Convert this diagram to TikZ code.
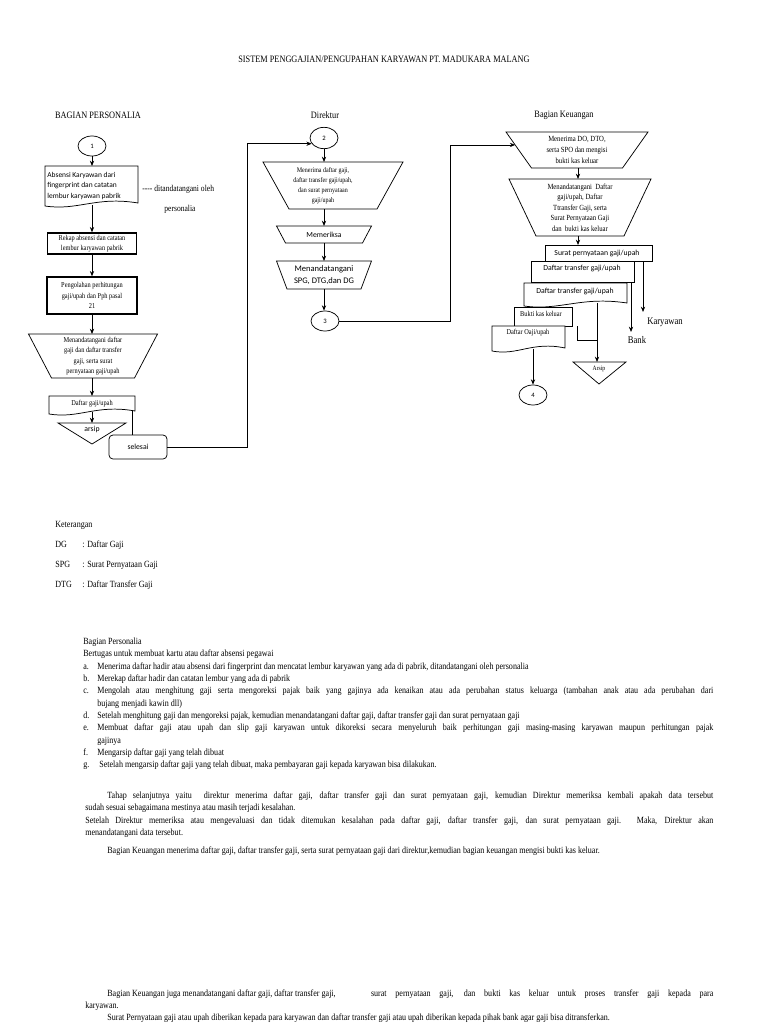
\documentclass[tikz,border=0pt]{standalone}
\usepackage{fontspec}
\setmainfont{Liberation Serif}[FakeStretch=0.85]
\newfontfamily\calf{Carlito}
\usetikzlibrary{calc,shapes.geometric,arrows.meta}
% trapezoid (wide top): opts, name, cx, cy, topw, botw, h, text
\newcommand\trapz[8][]{%
  \coordinate (#2-tl) at ({#3-#5/2},{#4-#7/2});
  \coordinate (#2-tr) at ({#3+#5/2},{#4-#7/2});
  \coordinate (#2-br) at ({#3+#6/2},{#4+#7/2});
  \coordinate (#2-bl) at ({#3-#6/2},{#4+#7/2});
  \coordinate (#2-n) at (#3,{#4-#7/2});
  \coordinate (#2-s) at (#3,{#4+#7/2});
  \draw[fill=white] (#2-tl)--(#2-tr)--(#2-br)--(#2-bl)--cycle;
  \node[fc,#1] (#2) at (#3,#4) {#8};}
% document shape: name, x1, y1, x2, y2 (bottom at left corner)
\newcommand\docu[5]{%
  \coordinate (#1-n) at ({(#2+#4)/2},#3);
  \draw[fill=white] (#2,#3) -- (#4,#3) -- (#4,{#5-3})
    .. controls ({#2+0.55*(#4-#2)},{#5-10}) and ({#2+0.35*(#4-#2)},{#5+5}) .. (#2,#5) -- cycle;}
\newcommand\btext[4]{\node[body] (#1) at (#2,#3) {#4};}
\begin{document}
\begin{tikzpicture}[x=0.75pt,y=-0.75pt,line width=0.55pt,
  >={Stealth[length=4pt,width=3.2pt]},
  circ/.style={draw,ellipse,minimum width=21pt,minimum height=15pt,inner sep=0,font=\calf\fontsize{5}{6}\selectfont},
  fc/.style={inner sep=0,align=center,font=\fontsize{5.6}{7.9}\selectfont},
  fs/.style={inner sep=0,align=center,font=\calf\fontsize{5.8}{7.9}\selectfont},
  body/.style={inner sep=0,anchor=base west,font=\fontsize{7.1}{9}\selectfont},
  hdr/.style={inner sep=0,font=\fontsize{7.3}{9}\selectfont},
  thickbox/.style={draw,line width=1pt,inner sep=0,align=center,font=\fontsize{5.6}{7.9}\selectfont}]
\useasboundingbox (0,0) rectangle (768,1024);
\fill[white] (0,0) rectangle (768,1024);

% title and headers
\node[hdr] (title) at (384,59) {SISTEM PENGGAJIAN/PENGUPAHAN KARYAWAN PT. MADUKARA MALANG};
\node[hdr] (hP) at (98,115) {BAGIAN PERSONALIA};
\node[hdr] (hD) at (325,115) {Direktur};
\node[hdr] (hK) at (564,115) {Bagian Keuangan};

% ---------- Bagian Personalia ----------
\node[circ] (c1) at (92,146) {1};
\docu{dA}{45}{166}{138}{206}
\node[fs,align=left,anchor=west,font=\calf\fontsize{5.6}{7.9}\selectfont] (tA) at (47,186) {Absensi Karyawan dari\\fingerprint dan catatan\\lembur karyawan pabrik};
\node[hdr,anchor=west,font=\fontsize{6.7}{8}\selectfont] (sig1) at (142,189) {-{}-{}-{}- ditandatangani oleh};
\node[hdr,anchor=west,font=\fontsize{6.7}{8}\selectfont] (sig2) at (164,209) {personalia};
\node[thickbox,minimum width=66.75pt,minimum height=15.75pt] (rekap) at (92,243.5) {Rekap absensi dan catatan\\lembur karyawan pabrik};
\node[thickbox,minimum width=67.5pt,minimum height=27.75pt] (olah) at (92,295.5) {Pengolahan perhitungan\\gaji/upah dan Pph pasal\\21};
\trapz{tP}{93}{356}{129}{83}{44}{Menandatangani daftar\\gaji dan daftar transfer\\gaji, serta surat\\pernyataan gaji/upah}
\docu{dP}{49}{396}{135}{414}
\node[fc] (tdP) at (92,404) {Daftar gaji/upah};
\coordinate (aP-tl) at (58,423); \coordinate (aP-tr) at (126,423); \coordinate (aP-b) at (92,444);
\draw (aP-tl) -- (aP-tr) -- (aP-b) -- cycle;
\node[fs] (arsipP) at (92,429) {arsip};
\node[draw,rounded corners=3pt,minimum width=43.5pt,minimum height=18pt,inner sep=0,font=\calf\fontsize{5.8}{7}\selectfont] (sel) at (138,447) {selesai};

\draw[->] (c1.south) -- (c1.south |- dA-n);
\draw[->] (92,205) coordinate (dAb) -- (dAb |- rekap.north);
\draw[->] (rekap.south) -- (olah.north);
\draw[->] (olah.south) -- (olah.south |- tP-n);
\draw[->] (tP-s -| olah.south) -- (olah.south |- dP-n);
\draw[->] (92,412) coordinate (dPb) -- (dPb |- aP-tl);
\draw (132,410) coordinate (dPr) -- (dPr |- sel.north);

% ---------- Direktur ----------
\node[circ,minimum height=16pt] (c2) at (324,138) {2};
\trapz[fc,font=\fontsize{5.3}{7.6}\selectfont,xshift=-7.5pt]{tD1}{333}{185.5}{140}{88}{47}{Menerima daftar gaji,\\daftar transfer gaji/upah,\\dan surat pernyataan\\gaji/upah}
\trapz[fs]{tD2}{324}{234.5}{95}{77}{17}{Memeriksa}
\trapz[fs,font=\calf\fontsize{6.4}{8.6}\selectfont]{tD3}{324}{275}{95}{74}{28}{Menandatangani\\SPG, DTG,dan DG}
\node[circ] (c3) at (325,321) {3};

\draw[->] (c2.south) -- (c2.south |- tD1-n);
\draw[->] (c2.south |- tD1-s) -- (c2.south |- tD2-n);
\draw[->] (tD2-s) -- (tD3-n);
\draw[->] (tD3-s) -- (tD3-s |- c3.north);
\coordinate (j1) at (247,0);
\draw[->] (sel.east) -| (j1 |- c2.205) -- (c2.205);

% ---------- Bagian Keuangan ----------
\trapz[fc,font=\fontsize{5.9}{8.3}\selectfont]{tK1}{577}{150}{142}{91}{36}{Menerima DO, DTO,\\serta SPO dan mengisi\\bukti kas keluar}
\trapz[fc,font=\fontsize{5.9}{7.9}\selectfont]{tK2}{580}{207.5}{142}{88}{57}{Menandatangani\ \ Daftar\\gaji/upah, Daftar\\Ttransfer Gaji, serta\\Surat Pernyataan Gaji\\dan\ \ bukti kas keluar}
\coordinate (j2) at (450,0);
\coordinate (k1in) at ($(tK1-tl)!0.36!(tK1-bl)$);
\draw[->] (c3.east) -| (j2 |- k1in) -- (k1in);
\draw[->] (tK1-s -| 578,0) -- (578,0 |- tK2-n);

% document stack
\draw[fill=white] (545,245) rectangle (652,261);
\node[fs,font=\calf\fontsize{5.8}{7}\selectfont] (dKA) at (597,253) {Surat pernyataan gaji/upah};
\draw[fill=white] (531,261) rectangle (634,282);
\node[fs,font=\calf\fontsize{5.8}{7}\selectfont] (dKB) at (582,268.5) {Daftar transfer gaji/upah};
\docu{dC}{524}{283}{627}{306}
\node[fs,font=\calf\fontsize{5.8}{7}\selectfont] (dKC) at (575,291.5) {Daftar transfer gaji/upah};
\draw[fill=white] (514,307) rectangle (572,326);
\node[fc] (dKD) at (541,313.5) {Bukti kas keluar};
\docu{dE}{492}{326}{565}{351}
\node[fc] (dKE) at (528,333) {Daftar Oaji/upah};

\draw[->] (tK2-s -| 578,0) -- (578,245);
\node[hdr,font=\fontsize{7.6}{9}\selectfont] (kary) at (665,322) {Karyawan};
\node[hdr,font=\fontsize{7.6}{9}\selectfont] (bank) at (637,340) {Bank};
\draw[->] (643,261) coordinate (kaS) -- (kaS |- 0,312);
\draw[->] (631,282) coordinate (kbS) -- (kbS |- 0,332);
\coordinate (aK-tl) at (573,362); \coordinate (aK-tr) at (626,362); \coordinate (aK-b) at (599,384);
\draw (aK-tl) -- (aK-tr) -- (aK-b) -- cycle;
\node[fc,font=\fontsize{5}{6}\selectfont] (arsipK) at (599,368.5) {Arsip};
\draw[->] (597,303) coordinate (kcS) -- (kcS |- aK-tl);
\draw (577,326) coordinate (kdS) |- (kcS |- 0,340);
\node[circ,minimum height=15pt] (c4) at (533,395) {4};
\draw[->] (533,349) coordinate (keS) -- (keS |- c4.north);

% ---------- Keterangan ----------
\btext{ket}{55}{527}{Keterangan}
\btext{k1}{55}{547}{DG}\btext{k1b}{82}{547}{: Daftar Gaji}
\btext{k2}{55}{567}{SPG}\btext{k2b}{82}{567}{: Surat Pernyataan Gaji}
\btext{k3}{55}{587}{DTG}\btext{k3b}{82}{587}{: Daftar Transfer Gaji}

% ---------- body text ----------
\btext{p0}{83}{644}{Bagian Personalia}
\btext{p1}{83}{656.5}{Bertugas untuk membuat kartu atau daftar absensi pegawai}
\btext{la}{83}{669}{a.}\btext{ta}{97}{669}{Menerima daftar hadir atau absensi dari fingerprint dan mencatat lembur karyawan yang ada di pabrik, ditandatangani oleh personalia}
\btext{lb}{83}{681}{b.}\btext{tb}{97}{681}{Merekap daftar hadir dan catatan lembur yang ada di pabrik}
\btext{lc}{83}{693.5}{c.}\btext{tc}{97}{693.5}{\makebox[462pt][s]{Mengolah atau menghitung gaji serta mengoreksi pajak baik yang gajinya ada kenaikan atau ada perubahan status keluarga (tambahan anak atau ada perubahan dari}}
\btext{tc2}{97}{706}{bujang menjadi kawin dll)}
\btext{ld}{83}{718}{d.}\btext{td}{97}{718}{Setelah menghitung gaji dan mengoreksi pajak, kemudian menandatangani daftar gaji, daftar transfer gaji dan surat pernyataan gaji}
\btext{le}{83}{730.5}{e.}\btext{te}{97}{730.5}{\makebox[462pt][s]{Membuat daftar gaji atau upah dan slip gaji karyawan untuk dikoreksi secara menyeluruh baik perhitungan gaji masing-masing karyawan maupun perhitungan pajak}}
\btext{te2}{97}{743}{gajinya}
\btext{lf}{83}{755}{f.}\btext{tf}{97}{755}{Mengarsip daftar gaji yang telah dibuat}
\btext{lg}{83}{767.5}{g.}\btext{tg}{99}{767.5}{Setelah mengarsip daftar gaji yang telah dibuat, maka pembayaran gaji kepada karyawan bisa dilakukan.}

\btext{q1}{107}{798}{\makebox[454.5pt][s]{Tahap selanjutnya yaitu\ \ direktur menerima daftar gaji, daftar transfer gaji dan surat pernyataan gaji, kemudian Direktur memeriksa kembali apakah data tersebut}}
\btext{q2}{85}{810.5}{sudah sesuai sebagaimana mestinya atau masih terjadi kesalahan.}
\btext{q3}{85}{823}{\makebox[471pt][s]{Setelah Direktur memeriksa atau mengevaluasi dan tidak ditemukan kesalahan pada daftar gaji, daftar transfer gaji, dan surat pernyataan gaji. Maka, Direktur akan}}
\btext{q4}{85}{835.5}{menandatangani data tersebut.}
\btext{q5}{107}{853.5}{Bagian Keuangan menerima daftar gaji, daftar transfer gaji, serta surat pernyataan gaji dari direktur,kemudian bagian keuangan mengisi bukti kas keluar.}

\btext{r1}{107}{996}{\makebox[454.5pt][s]{\mbox{Bagian Keuangan juga menandatangani daftar gaji, daftar transfer gaji,}\hspace{20pt} surat pernyataan gaji, dan bukti kas keluar untuk proses transfer gaji kepada para}}
\btext{r2}{85}{1008}{karyawan.}
\btext{r3}{107}{1020}{Surat Pernyataan gaji atau upah diberikan kepada para karyawan dan daftar transfer gaji atau upah diberikan kepada pihak bank agar gaji bisa ditransferkan.}
\end{tikzpicture}
\end{document}
